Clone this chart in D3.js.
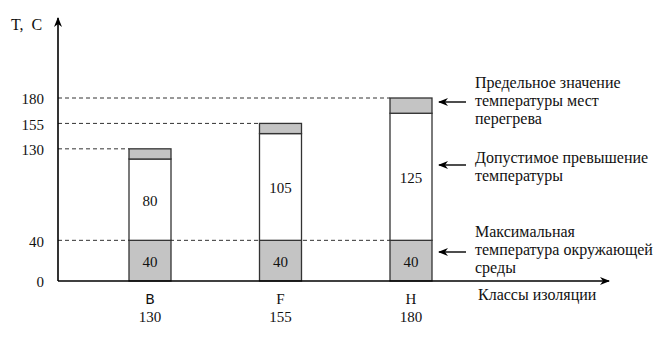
<!DOCTYPE html>
<html><head><meta charset="utf-8">
<script src="https://cdn.jsdelivr.net/npm/d3@7"></script>
<style>body{margin:0;background:#fff}svg{display:block}</style>
</head><body><svg id="c" width="665" height="337" font-family="Liberation Serif"></svg>
<script>
const classes = ["B", "F", "H"];
const classTemps = ["130", "155", "180"];
const ambient = [40, 40, 40];
const rise = [80, 105, 125];
const hotspot = [10, 10, 15];
const yTicks = [0, 40, 130, 155, 180];
const legendTexts = [
  ["Предельное значение", "температуры мест", "перегрева"],
  ["Допустимое превышение", "температуры"],
  ["Максимальная", "температура окружающей", "среды"]
];
const yLabel = "T,  C";
const xLabel = "Классы изоляции";

const FONT = "Liberation Serif";
const svg = d3.select("#c");
const y = d3.scaleLinear().domain([0, 180]).range([281, 98]);
const x = d3.scalePoint().domain(classes).range([150, 411]);
const bw = 42, ax = 58;
const gray = "#c4c4c4", edge = "#333";
const txt = (sel, size) => sel.attr("font-family", FONT).attr("font-size", size || 15).attr("fill", "#111");

const defs = svg.append("defs");
defs.append("marker").attr("id","ar").attr("viewBox","0 0 10 10").attr("refX",9).attr("refY",5)
  .attr("markerWidth",10).attr("markerHeight",10).attr("markerUnits","userSpaceOnUse").attr("orient","auto")
  .append("path").attr("d","M0,1 L10,5 L0,9 L3,5 Z").attr("fill","#000");

// dashed guides
const guideEnds = {40: x("H") - bw/2, 130: x("B") - bw/2, 155: x("F") - bw/2, 180: x("H") - bw/2};
yTicks.filter(t => t > 0).forEach(t => {
  svg.append("line").attr("x1", ax).attr("x2", guideEnds[t]).attr("y1", y(t)).attr("y2", y(t))
    .attr("stroke", "#333").attr("stroke-width", 1).attr("stroke-dasharray", "4,3");
});

// bars
classes.forEach((c, i) => {
  const x0 = x(c) - bw/2;
  const segs = [
    {lo: 0, hi: ambient[i], fill: gray, label: ambient[i]},
    {lo: ambient[i], hi: ambient[i] + rise[i], fill: "#fff", label: rise[i]},
    {lo: ambient[i] + rise[i], hi: ambient[i] + rise[i] + hotspot[i], fill: gray, label: null}
  ];
  segs.forEach(s => {
    svg.append("rect").attr("x", x0).attr("y", y(s.hi)).attr("width", bw).attr("height", y(s.lo) - y(s.hi))
      .attr("fill", s.fill).attr("stroke", edge).attr("stroke-width", 1.3);
    if (s.label !== null)
      svg.append("text").call(txt).attr("x", x(c)).attr("y", (y(s.lo) + y(s.hi)) / 2 + 6).attr("text-anchor", "middle")
        .text(s.label);
  });
  const lab = svg.append("text").call(txt).attr("x", x(c)).attr("y", 304).attr("text-anchor", "middle").text(c);
  if (c === "B") lab.attr("font-family", "DejaVu Sans").attr("font-size", 14);
  svg.append("text").call(txt).attr("x", x(c)).attr("y", 322).attr("text-anchor", "middle").text(classTemps[i]);
});

// axes
svg.append("line").attr("x1", ax).attr("x2", ax).attr("y1", 281).attr("y2", 18)
  .attr("stroke", "#000").attr("stroke-width", 1.6).attr("marker-end", "url(#ar)");
svg.append("line").attr("x1", ax).attr("x2", 609).attr("y1", 281).attr("y2", 281)
  .attr("stroke", "#000").attr("stroke-width", 1.6).attr("marker-end", "url(#ar)");

const yAxis = d3.axisLeft(y).tickValues(yTicks).tickSize(0).tickPadding(14);
const gy = svg.append("g").attr("transform", `translate(${ax},0)`).call(yAxis);
gy.select(".domain").remove();
gy.attr("font-family", FONT).attr("font-size", 15);
gy.selectAll("text").attr("fill", "#111").attr("dy", "0.38em");

svg.append("text").call(txt, 16).attr("x", 11).attr("y", 30).attr("xml:space","preserve").text(yLabel);
svg.append("text").call(txt, 16).attr("x", 478).attr("y", 300).text(xLabel);

// legend
const legY = [88, 163, 237];
const arrowY = [102, 165, 252];
legendTexts.forEach((lines, k) => {
  lines.forEach((l, j) => svg.append("text").call(txt, 16).attr("x", 475).attr("y", legY[k] + j * 18).text(l));
  svg.append("line").attr("x1", 466).attr("x2", 439).attr("y1", arrowY[k]).attr("y2", arrowY[k])
    .attr("stroke", "#000").attr("stroke-width", 1.4).attr("marker-end", "url(#ar)");
});
</script></body></html>
